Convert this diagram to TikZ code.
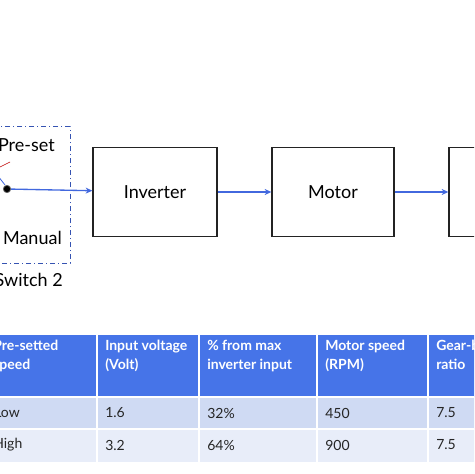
\documentclass[tikz,border=0pt]{standalone}
\usepackage{fontspec}
\setmainfont{Lato}
\usetikzlibrary{arrows.meta}
\definecolor{linkblue}{RGB}{66,104,222}
\definecolor{headblue}{RGB}{70,116,232}
\definecolor{rowone}{RGB}{207,218,243}
\definecolor{rowtwo}{RGB}{232,237,249}
\definecolor{framegrey}{RGB}{35,35,35}
\tikzset{
  block/.style={draw=framegrey, line width=1pt, minimum height=66.75pt, font=\fontsize{13.5}{16}\selectfont},
  link/.style={draw=linkblue, line width=1pt, -{Stealth[length=5pt,width=4.5pt]}},
  swlabel/.style={anchor=east, inner sep=0pt, font=\fontsize{13.5}{16}\selectfont},
  headtext/.style={anchor=north west, inner sep=0pt, align=left, text=white, font=\fontsize{10.5}{14.25}\selectfont\bfseries},
  celltext/.style={anchor=west, inner sep=0pt, text=black!85, font=\fontsize{10.5}{13}\selectfont}
}
\begin{document}
\begin{tikzpicture}[x=0.75pt,y=-0.75pt]
\useasboundingbox (0,0) rectangle (474,474);
\clip (0,0) rectangle (474,474);
% switch
\node[draw=linkblue!80!black, line width=0.75pt, dash pattern=on 4pt off 2pt on 1pt off 2pt,
  minimum width=105pt, minimum height=102pt] (switch) at (0,195) {};
\node[swlabel] (preset) at (55,145) {Pre-set};
\node[swlabel] (manual) at (62,238) {Manual};
\node[swlabel] (swname) at (63,280) {Switch 2};
\draw[red!75!black, line width=0.5pt] (-2,168) -- (10,162);
\draw[linkblue, line width=0.6pt] (-2,176) -- (5,185);
\node[circle, fill=black, draw=black!60, line width=0.6pt, minimum size=5.5pt, inner sep=0pt] (contact) at (7,189) {};
% blocks
\node[block, minimum width=93pt] (inverter) at (155,192) {Inverter};
\node[block, minimum width=91.5pt] (motor) at (333,192) {Motor};
\node[block, minimum width=91.5pt] (gearbox) at (510,192) {};
\draw[link] (contact) -- (inverter);
\draw[link] (inverter) -- (motor);
\draw[link] (motor) -- (gearbox);
% table
\fill[headblue] (-30,335) rectangle (540,397);
\fill[rowone] (-30,397) rectangle (540,429);
\fill[rowtwo] (-30,429) rectangle (540,462);
\foreach \y in {397,429}
  \draw[white, line width=1.5pt] (-30,\y) -- (540,\y);
\foreach \x in {97,199,317,428}
  \draw[white, line width=1.5pt] (\x,335) -- (\x,462);
\node[headtext] (h1) at (-7,340) {Pre-setted\\speed};
\node[headtext] (h2) at (105,340) {Input voltage\\(Volt)};
\node[headtext] (h3) at (207,340) {\% from max\\inverter input};
\node[headtext] (h4) at (325,340) {Motor speed\\(RPM)};
\node[headtext] (h5) at (436,340) {Gear-box\\ratio};
\node[celltext] (l1) at (-6,413) {Low};
\node[celltext] (l2) at (105,413) {1.6};
\node[celltext] (l3) at (207,413) {32\%};
\node[celltext] (l4) at (325,413) {450};
\node[celltext] (l5) at (436,413) {7.5};
\node[celltext] (g1) at (-7,445) {High};
\node[celltext] (g2) at (105,445) {3.2};
\node[celltext] (g3) at (207,445) {64\%};
\node[celltext] (g4) at (325,445) {900};
\node[celltext] (g5) at (436,445) {7.5};
\end{tikzpicture}
\end{document}
